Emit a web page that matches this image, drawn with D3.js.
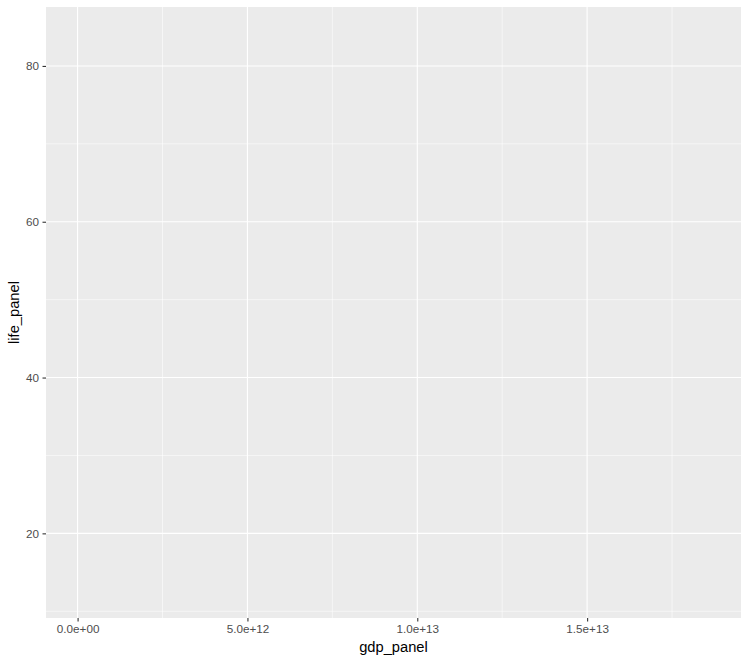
<!DOCTYPE html>
<html>
<head>
<meta charset="utf-8">
<script src="https://cdn.jsdelivr.net/npm/d3@7"></script>
<style>
  body { margin: 0; background: #fff; }
  text { font-family: "Liberation Sans", Arial, sans-serif; }
</style>
</head>
<body>
<svg width="749" height="664"></svg>
<script>
// Data range (panel is empty, only the scale limits remain)
const gdpRange = [0, 1.86e13];
const lifeRange = [12.7, 84.0];

// Ticks
const xTicks = [0, 5e12, 1e13, 1.5e13];
const xTickLabels = ["0.0e+00", "5.0e+12", "1.0e+13", "1.5e+13"];
const xMinor = [2.5e12, 7.5e12, 1.25e13, 1.75e13];
const yTicks = [20, 40, 60, 80];
const yMinor = [10, 30, 50, 70];

const svg = d3.select("svg"),
  width = +svg.attr("width"),
  height = +svg.attr("height");

const panel = { left: 46, right: 741, top: 7, bottom: 618 };

// ggplot style 5% expansion
function expand(r) {
  const pad = (r[1] - r[0]) * 0.05;
  return [r[0] - pad, r[1] + pad];
}

const x = d3.scaleLinear()
  .domain(expand(gdpRange))
  .range([panel.left, panel.right]);

const y = d3.scaleLinear()
  .domain(expand(lifeRange))
  .range([panel.bottom, panel.top]);

// Panel background
svg.append("rect")
  .attr("x", panel.left)
  .attr("y", panel.top)
  .attr("width", panel.right - panel.left)
  .attr("height", panel.bottom - panel.top)
  .attr("fill", "#EBEBEB");

// Minor grid
svg.append("g")
  .selectAll("line")
  .data(xMinor)
  .join("line")
  .attr("x1", d => x(d)).attr("x2", d => x(d))
  .attr("y1", panel.top).attr("y2", panel.bottom)
  .attr("stroke", "#fff").attr("stroke-width", 0.55);

svg.append("g")
  .selectAll("line")
  .data(yMinor)
  .join("line")
  .attr("y1", d => y(d)).attr("y2", d => y(d))
  .attr("x1", panel.left).attr("x2", panel.right)
  .attr("stroke", "#fff").attr("stroke-width", 0.55);

// Major grid
svg.append("g")
  .selectAll("line")
  .data(xTicks)
  .join("line")
  .attr("x1", d => x(d)).attr("x2", d => x(d))
  .attr("y1", panel.top).attr("y2", panel.bottom)
  .attr("stroke", "#fff").attr("stroke-width", 1.1);

svg.append("g")
  .selectAll("line")
  .data(yTicks)
  .join("line")
  .attr("y1", d => y(d)).attr("y2", d => y(d))
  .attr("x1", panel.left).attr("x2", panel.right)
  .attr("stroke", "#fff").attr("stroke-width", 1.1);

// X axis
const xAxis = svg.append("g")
  .attr("transform", `translate(0,${panel.bottom})`)
  .call(d3.axisBottom(x)
    .tickValues(xTicks)
    .tickFormat((d, i) => xTickLabels[i])
    .tickSize(3.5)
    .tickPadding(3.5));
xAxis.select(".domain").remove();
xAxis.selectAll(".tick line").attr("stroke", "#333").attr("stroke-width", 1.1);
xAxis.selectAll(".tick text")
  .attr("fill", "#4D4D4D")
  .style("font-size", "11.7px");

// Y axis
const yAxis = svg.append("g")
  .attr("transform", `translate(${panel.left},0)`)
  .call(d3.axisLeft(y)
    .tickValues(yTicks)
    .tickSize(3.5)
    .tickPadding(3.5));
yAxis.select(".domain").remove();
yAxis.selectAll(".tick line").attr("stroke", "#333").attr("stroke-width", 1.1);
yAxis.selectAll(".tick text")
  .attr("fill", "#4D4D4D")
  .style("font-size", "11.7px");

// Axis titles
svg.append("text")
  .attr("x", (panel.left + panel.right) / 2)
  .attr("y", 652)
  .attr("text-anchor", "middle")
  .style("font-size", "14.7px")
  .attr("fill", "#000")
  .text("gdp_panel");

svg.append("text")
  .attr("transform", `translate(19,${(panel.top + panel.bottom) / 2}) rotate(-90)`)
  .attr("text-anchor", "middle")
  .style("font-size", "14.7px")
  .attr("fill", "#000")
  .text("life_panel");
</script>
</body>
</html>
